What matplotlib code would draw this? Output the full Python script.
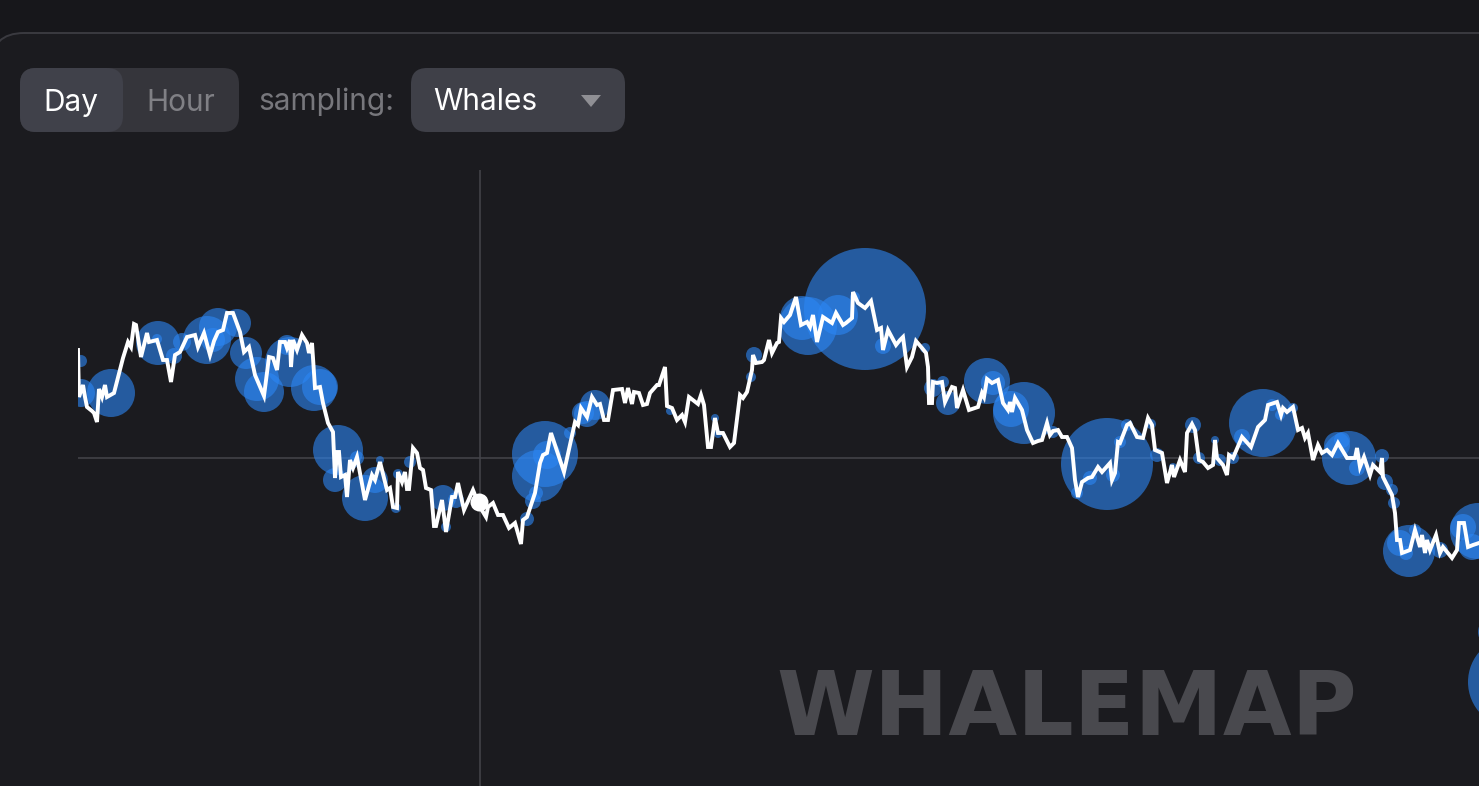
"""Whalemap style price line with whale buying bubbles, dark panel UI."""
import matplotlib
matplotlib.use("Agg")
import matplotlib.pyplot as plt
from matplotlib.patches import FancyBboxPatch, Polygon

W, H = 1479, 786
OUTER_BG, PANEL_BG = "#17171b", "#1b1b1f"

# price line (chart pixels, y down)
line_x = [
    78, 79, 83, 85, 87, 92, 94, 97, 99, 102, 105, 107, 114, 123, 128, 131, 134, 136, 141, 147,
    149, 157, 163, 167, 171, 175, 180, 187, 195, 198, 204, 210, 214, 218, 223, 227, 233, 240, 244, 249,
    255, 264, 269, 273, 277, 280, 285, 287, 290, 291, 293, 297, 302, 307, 309, 312, 315, 320,
    323, 328, 333, 335, 337, 339, 341, 345, 347, 350, 353, 357, 365, 372, 375, 380, 387, 390, 393, 397,
    398, 402, 405, 407, 409, 413, 417, 420, 423, 426, 431, 434, 436, 442, 446, 452, 455, 458, 464, 473,
    477, 480, 486, 488, 493, 498, 503, 509, 515, 521, 523, 527, 535, 540, 543, 547, 551, 564,
    570, 575, 578, 581, 587, 592, 597, 600, 604, 608, 613, 622, 625, 628, 632, 634, 639, 643, 647, 650,
    657, 659, 665, 667, 672, 677, 682, 685, 689, 698, 701, 704, 708, 711, 715, 718, 723, 730, 734, 740,
    743, 747, 752, 753, 756, 762, 764, 769, 772, 777, 779, 781, 784, 790, 796, 801, 807, 810, 813, 817,
    823, 832, 836, 843, 846, 852, 853, 858, 865, 871, 877, 881, 883, 888, 896, 900, 903, 907, 912, 916,
    922, 926,
    928, 929, 932, 933, 937, 942, 945, 952, 955, 957, 963, 969, 978, 982, 984, 987, 992, 998, 1003, 1008,
    1010, 1012, 1015, 1022, 1027, 1033, 1038, 1042, 1047, 1050, 1053, 1058, 1062, 1067, 1072, 1075, 1078, 1082, 1088, 1092,
    1098, 1102, 1110, 1112, 1115, 1118, 1120, 1127, 1130, 1137, 1143, 1148, 1152, 1155, 1162, 1167, 1172, 1174, 1180, 1185,
    1187, 1192, 1195, 1199, 1203,
    1208, 1213, 1215, 1217, 1223, 1227, 1229, 1233, 1242, 1251, 1258, 1265, 1268, 1277, 1281, 1283, 1287, 1293, 1298, 1302,
    1305, 1308, 1313, 1318, 1322, 1327, 1332, 1338, 1347, 1355, 1357, 1360, 1364, 1370, 1373, 1380, 1382, 1383, 1388, 1392,
    1395, 1397, 1400, 1402, 1410, 1415, 1420, 1422, 1425, 1427, 1430, 1436, 1440, 1443, 1452, 1457, 1459, 1464, 1468, 1473, 1479,
]
line_y = [
    350, 397, 385, 397, 407, 411, 413, 422, 389, 397, 385, 397, 393, 358, 342, 347, 324, 325, 357, 333,
    342, 340, 360, 360, 382, 355, 352, 337, 335, 347, 333, 355, 341, 332, 330, 313, 313, 332, 352, 347,
    375, 396, 357, 358, 370, 342, 342, 348, 340, 367, 340, 350, 335, 343, 353, 343, 388, 387,
    403, 423, 432, 478, 452, 452, 477, 475, 497, 460, 468, 457, 500, 475, 480, 462, 490, 488, 507, 508,
    472, 482, 472, 489, 489, 448, 453, 468, 470, 488, 490, 526, 526, 500, 532, 497, 497, 483, 510, 490,
    500, 507, 517, 507, 503, 515, 515, 528, 523, 544, 520, 517, 493, 463, 455, 453, 433, 472,
    445, 422, 425, 408, 417, 397, 405, 404, 420, 420, 390, 389, 403, 388, 404, 392, 393, 405, 404, 393,
    385, 385, 367, 406, 408, 420, 415, 422, 397, 404, 395, 405, 447, 447, 418, 433, 433, 447, 443, 395,
    398, 392, 370, 355, 363, 362, 360, 340, 353, 343, 342, 318, 322, 315, 297, 325, 322, 327, 315, 342,
    317, 323, 313, 325, 323, 318, 292, 303, 308, 301, 330, 328, 350, 330, 345, 340, 337, 367, 357, 341,
    348, 353,
    367, 403, 403, 382, 383, 382, 402, 387, 388, 408, 390, 410, 407, 393, 397, 379, 383, 380, 403, 410,
    402, 412, 398, 410, 430, 443, 441, 440, 423, 435, 431, 430, 437, 437, 448, 480, 497, 482, 478, 477,
    467, 472, 463, 480, 473, 442, 443, 425, 423, 437, 438, 418, 425, 450, 453, 483, 465, 477, 460, 472,
    433, 424, 430, 460, 462,
    468, 465, 440, 458, 465, 475, 455, 458, 437, 447, 427, 420, 405, 402, 415, 408, 412, 407, 430, 428,
    438, 433, 460, 445, 453, 450, 455, 443, 458, 458, 448, 467, 457, 475, 465, 472, 458, 477, 487, 495,
    513, 540, 540, 553, 550, 530, 547, 535, 553, 540, 550, 535, 553, 547, 558, 550, 523, 523, 547, 545, 543,
]

# whale bubbles: centre and radius in chart pixels
bubble_x = [
    865, 1107, 545, 538, 547, 338, 335, 365, 375, 357, 396, 380, 398, 410, 443, 446, 456, 527, 533, 536,
    583, 111, 81, 81, 158, 157, 182, 174, 207, 218, 213, 237, 246, 257, 264, 287, 290, 314, 320,
    587, 595, 570, 670, 715, 718, 754, 751, 808, 802, 838, 883, 925, 933, 943, 948, 855,
    987, 993, 1024, 1011, 1053, 1077, 1090, 1113, 1120, 1127, 1151, 1157, 1173, 1193, 1199,
    1263, 1242, 1233, 1215, 1220, 1272, 1280, 1293, 1349, 1337, 1342, 1357, 1382, 1385, 1392, 1394,
    1409, 1400, 1415, 1406, 1440, 1478, 1463, 1472, 1514, 1493,
]
bubble_y = [
    309, 464, 454, 476, 455, 450, 480, 498, 480, 458, 508, 460, 474, 462, 498, 527, 500, 519, 501, 493,
    413, 393, 393, 361, 343, 339, 342, 356, 340, 327, 340, 323, 353, 379, 392, 345, 362, 388, 387,
    414, 405, 433, 411, 418, 434, 355, 377, 326, 318, 315, 346, 348, 388, 382, 403, 297,
    381, 383, 413, 409, 432, 493, 478, 475, 442, 425, 424, 455, 467, 425, 458,
    423, 437, 458, 440, 460, 405, 415, 408, 458, 445, 440, 468, 456, 482, 490, 503,
    551, 543, 530, 553, 550, 531, 527, 547, 682, 632,
]
bubble_r = [
    61, 46, 33, 26, 14, 25, 12, 23, 13, 7, 5, 4, 5, 6, 13, 5, 8, 7, 8, 7,
    11, 24, 14, 6, 22, 5, 9, 8, 24, 19, 12, 14, 16, 22, 20, 10, 25, 23, 18,
    13, 15, 6, 4, 4, 4, 8, 5, 29, 22, 20, 8, 5, 9, 6, 12, 5,
    23, 12, 31, 18, 6, 6, 7, 7, 6, 6, 5, 7, 4, 8, 6,
    34, 8, 6, 4, 6, 6, 5, 5, 27, 13, 8, 8, 7, 8, 6, 6,
    26, 13, 6, 7, 8, 28, 13, 13, 46, 15,
]

fig = plt.figure(figsize=(W / 100, H / 100), dpi=100, facecolor=OUTER_BG)
plt.rcParams["font.family"] = ["Inter", "DejaVu Sans"]

# page axes in pixel units for the panel and controls
bg = fig.add_axes([0, 0, 1, 1])
bg.set_xlim(0, W)
bg.set_ylim(H, 0)
bg.axis("off")


def box(x0, y0, x1, y1, color, rad=16):
    bg.add_patch(FancyBboxPatch((x0 + rad, y0 + rad), x1 - x0 - 2 * rad, y1 - y0 - 2 * rad,
                                boxstyle=f"round,pad={rad},rounding_size={rad}", fc=color, lw=0))


bg.add_patch(FancyBboxPatch((24, 66), W + 100, H, boxstyle="round,pad=33,rounding_size=33",
                            fc=PANEL_BG, ec="#3a3a40", lw=1.4))
box(20, 68, 239, 132, "#35353b")
box(20, 68, 123, 132, "#40414a")
box(411, 68, 625, 132, "#3f4048")
bg.add_patch(Polygon([(581, 95), (601, 95), (591, 107)], fc="#8f8f94", lw=0))

ui_size = 21.5
bg.text(71, 100, "Day", color="white", fontsize=ui_size, ha="center", va="center_baseline")
bg.text(181, 100, "Hour", color="#808085", fontsize=ui_size, ha="center", va="center_baseline")
bg.text(258, 99, "sampling:", color="#77777c", fontsize=ui_size, ha="left", va="center_baseline")
bg.text(433, 99, "Whales", color="white", fontsize=ui_size, ha="left", va="center_baseline")
bg.text(776, 735, "WHALEMAP", color="#49494e", fontsize=64, fontweight="bold",
        family="DejaVu Sans", ha="left", va="baseline")

# chart area, clipped on the left like the original canvas
ax = fig.add_axes([78 / W, 0, 1 - 78 / W, 1 - 170 / H])
ax.set_xlim(78, W)
ax.set_ylim(H, 170)
ax.axis("off")
ax.patch.set_alpha(0)

ax.plot([480, 480], [170, H], color="#45454b", lw=1.1, zorder=1)
ax.plot([78, W], [458, 458], color="#45454b", lw=1.1, zorder=1)

sizes = [(2 * r * 0.72) ** 2 for r in bubble_r]
ax.scatter(bubble_x, bubble_y, s=sizes, color="#2c87f5", alpha=0.6, linewidths=0, zorder=2)
ax.plot(line_x, line_y, color="white", lw=2.8, solid_joinstyle="miter", zorder=3)
ax.scatter([479], [502], s=(2 * 9 * 0.72) ** 2, color="white", linewidths=0, zorder=4)

fig.savefig("out.png", dpi=100, facecolor=fig.get_facecolor())
